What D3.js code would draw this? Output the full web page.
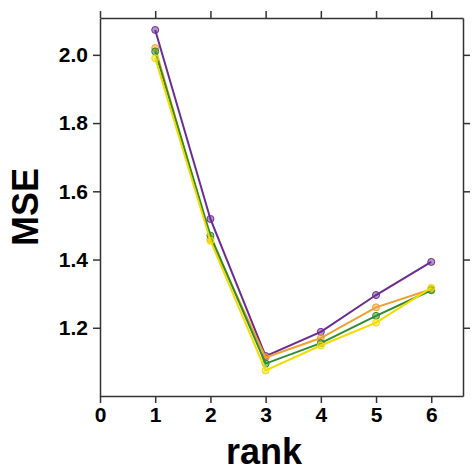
<!DOCTYPE html>
<html><head><meta charset="utf-8">
<script src="https://cdn.jsdelivr.net/npm/d3@7"></script>
<style>body{margin:0;background:#fff}text{font-family:"Liberation Sans",Arial,sans-serif;font-weight:bold}</style>
</head><body><svg id="c" width="474" height="474"></svg>
<script>
var ranks = [1, 2, 3, 4, 5, 6];
var purple = [2.073, 1.519, 1.117, 1.188, 1.296, 1.393];
var orange = [2.02, 1.46, 1.113, 1.17, 1.26, 1.313];
var green = [2.01, 1.47, 1.095, 1.155, 1.235, 1.31];
var yellow = [1.99, 1.455, 1.075, 1.148, 1.215, 1.317];
var series = [
  { v: purple, c: "#6a2c91" },
  { v: orange, c: "#f0a030" },
  { v: green, c: "#2e8b2e" },
  { v: yellow, c: "#f2dc00" }
];
var xTicks = [0, 1, 2, 3, 4, 5, 6];
var yTicks = [1.2, 1.4, 1.6, 1.8, 2.0];

var svg = d3.select("#c");
var L = 100, R = 463, T = 18, B = 396;
var x = d3.scaleLinear().domain([0, 6.575]).range([L, R]);
var y = d3.scaleLinear().domain([1.0, 2.108]).range([B, T]);

var ax = function(g) { g.selectAll("path,line").attr("stroke", "#333").attr("stroke-width", 1.5); g.selectAll("text").attr("font-size", 21).attr("fill", "#000"); };
svg.append("g").attr("transform", "translate(0," + B + ")").call(d3.axisBottom(x).tickValues(xTicks).tickFormat(d3.format("d")).tickSize(7).tickSizeOuter(0).tickPadding(4)).call(ax);
svg.append("g").attr("transform", "translate(0," + T + ")").call(d3.axisTop(x).tickValues(xTicks).tickSize(7).tickSizeOuter(0).tickFormat("")).call(ax);
svg.append("g").attr("transform", "translate(" + L + ",0)").call(d3.axisLeft(y).tickValues(yTicks).tickSize(7).tickSizeOuter(0).tickFormat(d3.format(".1f")).tickPadding(5)).call(ax);
svg.append("g").attr("transform", "translate(" + R + ",0)").call(d3.axisRight(y).tickValues(yTicks).tickSize(7).tickSizeOuter(0).tickFormat("")).call(ax);

var line = d3.line().x(function(d, i) { return x(ranks[i]); }).y(function(d) { return y(d); });
series.forEach(function(s) {
  svg.append("path").attr("d", line(s.v)).attr("fill", "none").attr("stroke", s.c).attr("stroke-width", 2);
  svg.selectAll(null).data(s.v).enter().append("circle")
    .attr("cx", function(d, i) { return x(ranks[i]); }).attr("cy", function(d) { return y(d); })
    .attr("r", 3.5).attr("fill", s.c).attr("fill-opacity", 0.5).attr("stroke", s.c).attr("stroke-width", 1);
});

svg.append("text").attr("x", 264).attr("y", 464).attr("text-anchor", "middle").attr("font-size", 36).text("rank");
svg.append("text").attr("transform", "translate(38," + (T + B) / 2 + ") rotate(-90)").attr("text-anchor", "middle").attr("font-size", 36).text("MSE");
</script></body></html>
